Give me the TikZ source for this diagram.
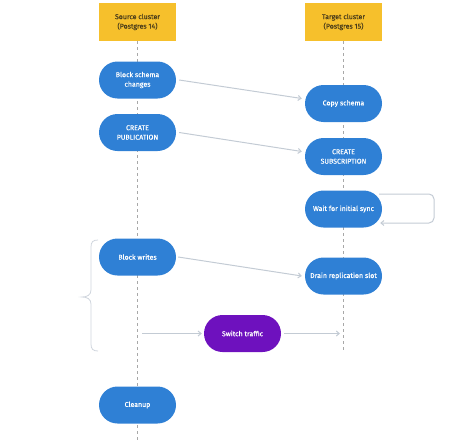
\documentclass[tikz,border=0pt]{standalone}
\usepackage{fontspec}
\setmainfont{Fira Sans}
\newfontfamily\nodefont{Fira Sans}[FakeBold=0.5]
\usetikzlibrary{arrows.meta,calc}
\definecolor{hdr}{HTML}{F6C02C}
\definecolor{hdrtxt}{HTML}{4A3D1A}
\definecolor{stepblue}{HTML}{2F80D5}
\definecolor{steppurple}{HTML}{6E11BE}
\definecolor{arrgrey}{HTML}{C3CBD4}
\definecolor{lifegrey}{HTML}{A8A8A8}
\tikzset{
  hdrbox/.style={fill=hdr, text=hdrtxt, minimum width=77pt, minimum height=38pt, inner sep=1pt, align=center, font=\nodefont\fontsize{7}{9.5}\selectfont},
  pill/.style={fill=stepblue, text=white, rounded corners=18.5pt, minimum width=77pt, minimum height=37pt, inner sep=1pt, align=center, font=\nodefont\fontsize{7}{9.5}\selectfont},
  pillpurple/.style={pill, fill=steppurple},
  lifeline/.style={draw=lifegrey, dashed, dash pattern=on 3pt off 3pt, line width=0.6pt},
  msg/.style={draw=arrgrey, line width=1pt, -{Straight Barb[length=3pt,width=5pt]}},
  bracestyle/.style={draw=arrgrey!80, line width=0.8pt}
}
\begin{document}
\begin{tikzpicture}[x=1pt,y=-1pt]
\useasboundingbox (0,0) rectangle (474,442);
% headers
\node[hdrbox] (src) at (137.5,22) {Source cluster\\(Postgres 14)};
\node[hdrbox] (tgt) at (343.5,22) {Target cluster\\(Postgres 15)};
% lifeline ends
\coordinate (srcend) at (137.5,442);
\coordinate (tgtend) at (343.5,352);
\draw[lifeline] (src.south) -- (srcend);
\draw[lifeline] (tgt.south) -- (tgtend);
% steps
\node[pill] (bsc) at (137.5,80) {Block schema\\changes};
\node[pill] (cs) at (343.5,103.5) {Copy schema};
\node[pill] (cp) at (137.5,132.5) {CREATE\\PUBLICATION};
\node[pill] (csub) at (343.5,156.5) {CREATE\\SUBSCRIPTION};
\node[pill] (wfs) at (343.5,209) {Wait for initial sync};
\node[pill] (bw) at (137.5,257) {Block writes};
\node[pill] (drs) at (343.5,276) {Drain replication slot};
\node[pillpurple] (st) at (242.5,333.5) {Switch traffic};
\node[pill] (cl) at (137.5,405) {Cleanup};
% messages
\draw[msg] ([xshift=3pt,yshift=0pt]bsc.east) -- ([xshift=-3pt,yshift=5pt]cs.west);
\draw[msg] ([xshift=3pt,yshift=0pt]cp.east) -- ([xshift=-3pt,yshift=5pt]csub.west);
\draw[msg] ([xshift=2pt,yshift=0pt]bw.east) -- ([xshift=-3pt]drs.west);
\coordinate (stin) at (142,333.5);
\coordinate (stout) at (340,333.5);
\draw[msg] (stin) -- ([xshift=-2pt]st.west);
\draw[msg] ([xshift=3pt]st.east) -- (stout);
% loop
\coordinate (loopA) at (434,194);
\coordinate (loopB) at (434,223);
\draw[msg, rounded corners=5pt] ($(wfs.east)+(-3,-15)$) -- (loopA) -- (loopB) -- ($(wfs.east)+(-2,14)$);
% brace
\draw[bracestyle] (98,240) .. controls (93,240) and (91,242) .. (91,247) -- (91,290)
  .. controls (91,295) and (87,297) .. (82,297)
  .. controls (87,297) and (91,299) .. (91,304) -- (91,344)
  .. controls (91,349) and (93,351) .. (98,351);
\end{tikzpicture}
\end{document}
